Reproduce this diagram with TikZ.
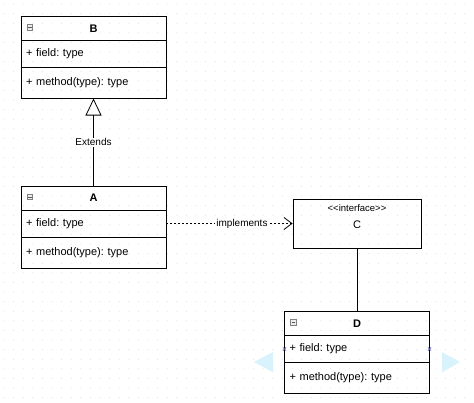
\documentclass[tikz,border=0pt]{standalone}
\usepackage{fontspec}
\setmainfont{Liberation Sans}
\frenchspacing
\usetikzlibrary{
  positioning,
  arrows.meta
}

\begin{document}
\begin{tikzpicture}[x=1pt, y=-1pt, line width=0.8pt,
  every node/.style = {font=\fontsize{11}{13}\selectfont},
  clshead/.style = {draw, rectangle, minimum width=145pt, minimum height=24pt,
    inner sep=0pt, outer sep=0pt, font=\fontsize{11}{13}\selectfont\bfseries},
  clsrow/.style = {draw, rectangle, text width=135pt, inner xsep=5pt,
    inner ysep=0pt, outer sep=0pt, align=left},
  fieldrow/.style = {clsrow, minimum height=27pt},
  methodrow/.style = {clsrow, minimum height=31pt},
  toggle/.style = {draw=gray, line width=0.6pt, fill=gray!15, minimum size=5.5pt, inner sep=0pt},
  lbl/.style = {fill=white, inner sep=1pt, font=\fontsize{10}{12}\selectfont},
  gridpt/.style = {fill=gray!35},
  hover/.style = {fill=cyan!15},
  xmark/.style = {draw=blue!30!gray, line width=0.7pt}]
  \useasboundingbox (0,0) rectangle (474,402);
  \foreach \i in {0,...,49}
    \foreach \j in {0,...,41}
      \fill[gridpt] (\i*9.6+4, \j*9.6+4) circle (0.45);

  \node[clshead] (B) at (93.5,28.5) {B};
  \node[fieldrow, below=0pt of B] (Bf) {+ field: type};
  \node[methodrow, below=0pt of Bf] (Bm) {+ method(type): type};

  \node[clshead] (A) at (93.5,198) {A};
  \node[fieldrow, below=0pt of A] (Af) {+ field: type};
  \node[methodrow, below=0pt of Af] (Am) {+ method(type): type};

  \node[draw, rectangle, minimum width=128pt, minimum height=49pt, align=center]
    (C) at (357,223.5)
    {{\fontsize{9.5}{11}\selectfont <\kern0pt<interface>\kern0pt>}\\[4pt]C\rule[-13pt]{0pt}{13pt}};

  \node[clshead] (D) at (357,323.5) {D};
  \node[fieldrow, below=0pt of D] (Df) {+ field: type};
  \node[methodrow, below=0pt of Df] (Dm) {+ method(type): type};

  \foreach \c in {B,A,D} {
    \node[toggle] (\c-tg) at ([shift={(9,11)}]\c.north west) {};
    \draw[gray!70!black, line width=0.6pt] ([xshift=1.2pt]\c-tg.west) -- ([xshift=-1.2pt]\c-tg.east);
  }

  \draw[-{Triangle[open,length=17pt,width=16pt]}]
    (A.north) -- node[lbl] {Extends} (Bm.south);
  \draw[dash pattern=on 2pt off 2pt, -{Straight Barb[length=8pt,width=12pt]}]
    (Af.east) -- node[lbl, pos=0.6] {implements} (C.west);
  \draw (C.south) -- (D.north);

  \foreach \p in {Df.west, Df.east}
    \draw[xmark] (\p) +(-1.6,-1.6) -- +(1.6,1.6) +(-1.6,1.6) -- +(1.6,-1.6);
  \fill[hover] (254,362) -- (273,352) -- (273,372.5) -- cycle;
  \fill[hover] (460,362) -- (442,352) -- (442,372.5) -- cycle;
\end{tikzpicture}
\end{document}
